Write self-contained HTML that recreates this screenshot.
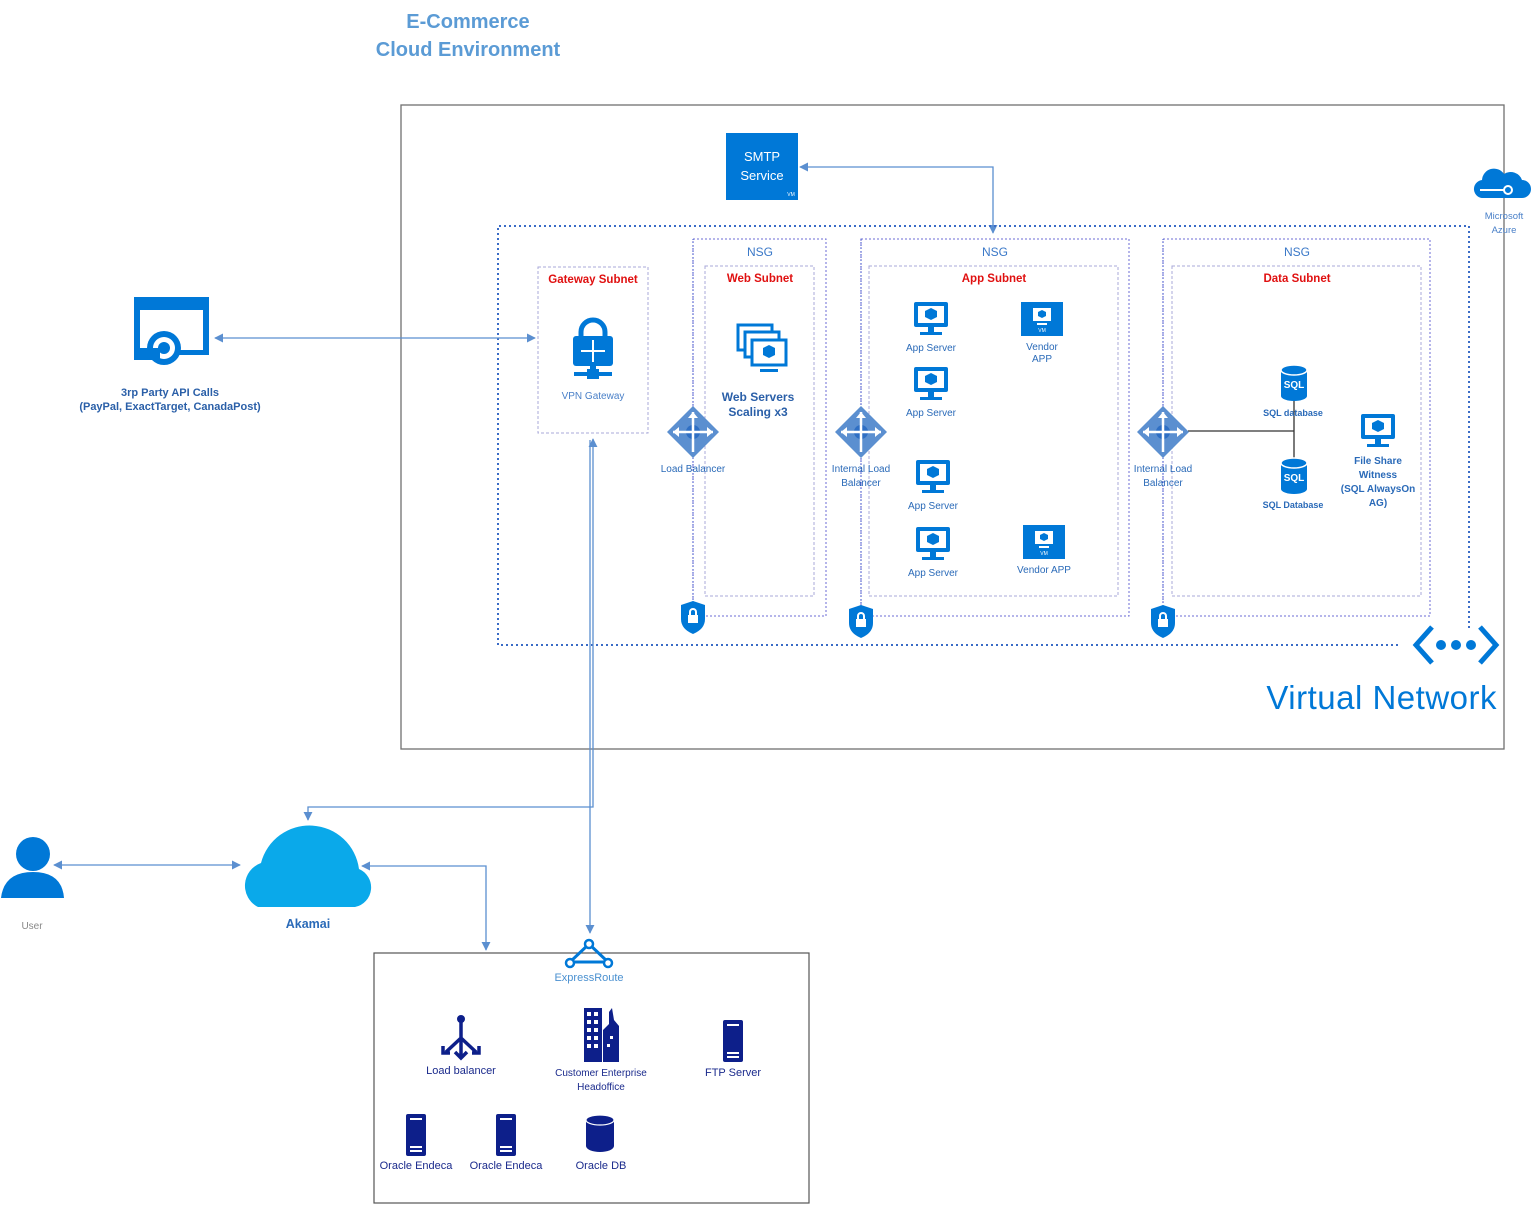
<!DOCTYPE html>
<html><head><meta charset="utf-8"><style>
html,body{margin:0;padding:0;background:#fff;}
svg{display:block;font-family:"Liberation Sans",sans-serif;}
</style></head><body>
<svg width="1536" height="1211" viewBox="0 0 1536 1211" xmlns="http://www.w3.org/2000/svg">
<defs>
<marker id="ar" viewBox="0 0 10 10" refX="9" refY="5" markerWidth="7" markerHeight="7" orient="auto-start-reverse"><path d="M0,0 L10,5 L0,10 z" fill="#5b8fd0"/></marker>
<g id="mon"><rect x="-17" y="-16" width="34" height="25" rx="2" fill="#0078d7"/><rect x="-13" y="-12" width="26" height="17" fill="#fff"/><path d="M0,-10 l6,3 v6 l-6,3 l-6,-3 v-6z" fill="#0078d7"/><rect x="-3" y="9" width="6" height="5" fill="#0078d7"/><rect x="-11" y="14" width="22" height="3" fill="#0078d7"/></g>
<g id="vm"><rect x="-21" y="-17" width="42" height="34" fill="#0078d7"/><rect x="-9" y="-11" width="18" height="13" fill="#fff"/><path d="M0,-9 l4,2 v4 l-4,2 l-4,-2 v-4z" fill="#0078d7"/><rect x="-5" y="4" width="10" height="2" fill="#fff"/><text x="0" y="13" font-size="5" fill="#fff" text-anchor="middle">VM</text></g>
<g id="lb"><path d="M0,-26 L26,0 L0,26 L-26,0z" fill="#5b8fd0"/><circle r="7" fill="#2f6fc4"/><path d="M0,-20 v40 M-20,0 h40" stroke="#fff" stroke-width="2.5"/><path d="M-20,0 l6,-5 v10z M20,0 l-6,-5 v10z M0,-20 l-5,6 h10z" fill="#fff"/></g>
<g id="sh"><path d="M-12,-12 L0,-16 L12,-12 V2 Q12,12 0,17 Q-12,12 -12,2z" fill="#0078d7"/><rect x="-5" y="-2" width="10" height="8" fill="#fff"/><path d="M-3,-2 v-3 a3,3 0 0 1 6,0 v3" stroke="#fff" stroke-width="2" fill="none"/></g>
<g id="sql"><path d="M-13,-14 v26 a13,5 0 0 0 26,0 v-26z" fill="#0078d7"/><ellipse cx="0" cy="-14" rx="13" ry="5" fill="#0078d7" stroke="#fff" stroke-width="1.5"/><text x="0" y="4" font-size="10" font-weight="bold" fill="#fff" text-anchor="middle">SQL</text></g>
<g id="srv"><rect x="-10" y="-21" width="20" height="42" rx="2" fill="#0d1f8a"/><rect x="-6" y="-17" width="12" height="2" fill="#fff"/><rect x="-6" y="11" width="12" height="2" fill="#fff"/><rect x="-6" y="15" width="12" height="2" fill="#fff"/></g>
</defs>

<text x="468" y="28" font-size="20" fill="#5b9bd5" text-anchor="middle" font-weight="bold">E-Commerce</text>
<text x="468" y="56" font-size="20" fill="#5b9bd5" text-anchor="middle" font-weight="bold">Cloud Environment</text>

<rect x="401" y="105" width="1103" height="644" fill="none" stroke="#707070" stroke-width="1.3"/>

<rect x="726" y="133" width="72" height="67" fill="#0078d7"/>
<text x="762" y="161" font-size="13" fill="#fff" text-anchor="middle">SMTP</text>
<text x="762" y="180" font-size="13" fill="#fff" text-anchor="middle">Service</text>
<text x="791" y="196" font-size="5" fill="#fff" text-anchor="middle">VM</text>
<path d="M993,233 V167 H800" fill="none" stroke="#5b8fd0" stroke-width="1.3" marker-start="url(#ar)" marker-end="url(#ar)"/>

<path d="M1398,645 H498 V226 H1469 V628" fill="none" stroke="#3a6bc6" stroke-width="2" stroke-dasharray="2,3"/>

<g fill="none" stroke="#6b6bd6" stroke-width="1" stroke-dasharray="2,2">
<rect x="693" y="239" width="133" height="377"/>
<rect x="861" y="239" width="268" height="377"/>
<rect x="1163" y="239" width="267" height="377"/>
</g>
<g fill="none" stroke="#a8a8d8" stroke-width="1" stroke-dasharray="3,2">
<rect x="538" y="267" width="110" height="166"/>
<rect x="705" y="266" width="109" height="330"/>
<rect x="869" y="266" width="249" height="330"/>
<rect x="1172" y="266" width="249" height="330"/>
</g>
<g font-size="12" fill="#3a78c8" text-anchor="middle">
<text x="760" y="256">NSG</text><text x="995" y="256">NSG</text><text x="1297" y="256">NSG</text>
</g>
<g font-size="11.5" fill="#e01010" text-anchor="middle" font-weight="bold">
<text x="593" y="283">Gateway Subnet</text><text x="760" y="282">Web Subnet</text><text x="994" y="282">App Subnet</text><text x="1297" y="282">Data Subnet</text>
</g>

<rect x="134" y="297" width="75" height="58" fill="#0078d7"/>
<rect x="140" y="310" width="63" height="40" fill="#fff"/>
<circle cx="164" cy="348" r="17" fill="#0078d7"/><circle cx="164" cy="348" r="11" fill="#fff"/><circle cx="164" cy="348" r="6" fill="#0078d7"/>
<rect x="134" y="348" width="26" height="12" fill="#0078d7"/>
<g font-size="11" font-weight="bold" fill="#2a5fa8" text-anchor="middle">
<text x="170" y="396">3rp Party API Calls</text><text x="170" y="410">(PayPal, ExactTarget, CanadaPost)</text></g>
<path d="M215,338 H535" stroke="#5b8fd0" stroke-width="1.3" marker-start="url(#ar)" marker-end="url(#ar)"/>

<path d="M581,338 v-6 a12,12 0 0 1 24,0 v6" stroke="#0078d7" stroke-width="5" fill="none"/>
<rect x="573" y="336" width="40" height="30" rx="3" fill="#0078d7"/>
<path d="M593,340 v22 M581,351 h24" stroke="#fff" stroke-width="2"/>
<rect x="590" y="366" width="6" height="8" fill="#0078d7"/><rect x="574" y="372" width="38" height="4" fill="#0078d7"/><rect x="587" y="369" width="12" height="10" fill="#0078d7"/>
<text x="593" y="399" font-size="10" fill="#4a80c8" text-anchor="middle">VPN Gateway</text>

<g><rect x="738" y="325" width="34" height="25" fill="#fff" stroke="#0078d7" stroke-width="3"/><rect x="745" y="332" width="34" height="25" fill="#fff" stroke="#0078d7" stroke-width="3"/><rect x="752" y="340" width="34" height="25" fill="#fff" stroke="#0078d7" stroke-width="3"/><path d="M769,345 l6,3 v7 l-6,3 l-6,-3 v-7z" fill="#0078d7"/><rect x="760" y="369" width="18" height="3" fill="#0078d7"/></g>
<g font-size="12" font-weight="bold" fill="#2a5fa8" text-anchor="middle"><text x="758" y="401">Web Servers</text><text x="758" y="416">Scaling x3</text></g>

<use href="#mon" x="931" y="318"/><use href="#mon" x="931" y="383"/><use href="#mon" x="933" y="476"/><use href="#mon" x="933" y="543"/>
<g font-size="10" fill="#2a6ab8" text-anchor="middle">
<text x="931" y="351">App Server</text><text x="931" y="416">App Server</text><text x="933" y="509">App Server</text><text x="933" y="576">App Server</text>
<text x="1042" y="350">Vendor</text><text x="1042" y="362">APP</text><text x="1044" y="573">Vendor APP</text></g>
<use href="#vm" x="1042" y="319"/><use href="#vm" x="1044" y="542"/>

<g stroke="#3a50c8" stroke-width="1" stroke-dasharray="1,2"><path d="M693,239 V610 M861,239 V612 M1163,239 V612"/></g>
<path d="M1188,431 H1294 M1294,400 V462" stroke="#333" stroke-width="1.3"/>
<use href="#lb" x="693" y="432"/><use href="#lb" x="861" y="432"/><use href="#lb" x="1163" y="432"/>
<g font-size="10" fill="#2a6ab8" text-anchor="middle">
<text x="693" y="472">Load Balancer</text>
<text x="861" y="472">Internal Load</text><text x="861" y="486">Balancer</text>
<text x="1163" y="472">Internal Load</text><text x="1163" y="486">Balancer</text></g>
<use href="#sh" x="693" y="617"/><use href="#sh" x="861" y="621"/><use href="#sh" x="1163" y="621"/>

<use href="#sql" x="1294" y="384"/><use href="#sql" x="1294" y="477"/>
<g font-size="9" fill="#2a6ab8" text-anchor="middle" font-weight="bold">
<text x="1293" y="416">SQL database</text><text x="1293" y="508">SQL Database</text></g>
<use href="#mon" x="1378" y="430"/>
<g font-size="10" fill="#2a6ab8" text-anchor="middle" font-weight="bold">
<text x="1378" y="464">File Share</text><text x="1378" y="478">Witness</text><text x="1378" y="492">(SQL AlwaysOn</text><text x="1378" y="506">AG)</text></g>

<path d="M1484,198 h38 a9,9 0 0 0 0,-18 a12,12 0 0 0 -18,-6 a12,12 0 0 0 -22,6 a9,9 0 0 0 2,18z" fill="#0078d7"/>
<circle cx="1508" cy="190" r="4" fill="none" stroke="#fff" stroke-width="2"/><path d="M1480,190 h24" stroke="#fff" stroke-width="2"/>
<g font-size="9.5" fill="#4a80c8" text-anchor="middle"><text x="1504" y="219">Microsoft</text><text x="1504" y="233">Azure</text></g>

<path d="M1432,627 L1416,645 L1432,663 M1480,627 L1496,645 L1480,663" stroke="#0078d7" stroke-width="5" fill="none"/>
<circle cx="1441" cy="645" r="5" fill="#0078d7"/><circle cx="1456" cy="645" r="5" fill="#0078d7"/><circle cx="1471" cy="645" r="5" fill="#0078d7"/>
<text x="1497" y="709" font-size="33" letter-spacing="0.5" fill="#0078d7" text-anchor="end">Virtual Network</text>

<path d="M593,439 V807 H308 V820" fill="none" stroke="#5b8fd0" stroke-width="1.3" marker-start="url(#ar)" marker-end="url(#ar)"/>
<path d="M590,440 V933" fill="none" stroke="#5b8fd0" stroke-width="1.3" marker-end="url(#ar)"/>

<circle cx="33" cy="854" r="17" fill="#0078d7"/>
<path d="M1,898 Q4,872 33,872 Q62,872 64,898z" fill="#0078d7"/>
<text x="32" y="929" font-size="10" fill="#888" text-anchor="middle">User</text>
<path d="M54,865 H240" stroke="#5b8fd0" stroke-width="1.3" marker-start="url(#ar)" marker-end="url(#ar)"/>

<path d="M258,907 H355 a20,20 0 0 0 4,-38 a50,50 0 0 0 -98,-6 a24,24 0 0 0 -3,44z" fill="#0aa9ea"/>
<text x="308" y="928" font-size="12.5" font-weight="bold" fill="#2a6ab8" text-anchor="middle">Akamai</text>
<path d="M362,866 H486 V950" fill="none" stroke="#5b8fd0" stroke-width="1.3" marker-start="url(#ar)" marker-end="url(#ar)"/>

<rect x="374" y="953" width="435" height="250" fill="none" stroke="#555" stroke-width="1.2"/>
<path d="M589,944 L570,962 H608z" fill="none" stroke="#0078d7" stroke-width="3"/>
<circle cx="589" cy="944" r="4" fill="#fff" stroke="#0078d7" stroke-width="2.5"/><circle cx="570" cy="963" r="4" fill="#fff" stroke="#0078d7" stroke-width="2.5"/><circle cx="608" cy="963" r="4" fill="#fff" stroke="#0078d7" stroke-width="2.5"/>
<text x="589" y="981" font-size="11" fill="#4a90d0" text-anchor="middle">ExpressRoute</text>

<g stroke="#0d1f8a" stroke-width="3.5" fill="none"><path d="M461,1020 V1058 M461,1038 L446,1052 M461,1038 L476,1052 M455,1052 L461,1058 L467,1052 M443,1046 v7 h7 M479,1046 v7 h-7"/></g>
<circle cx="461" cy="1019" r="4" fill="#0d1f8a"/>
<text x="461" y="1074" font-size="11" fill="#1a2a8c" text-anchor="middle">Load balancer</text>

<rect x="584" y="1008" width="18" height="54" fill="#0d1f8a"/>
<path d="M603,1062 V1030 L609,1024 V1012 L612,1008 L614,1020 L619,1026 V1062z" fill="#0d1f8a"/>
<g fill="#fff"><rect x="587" y="1012" width="4" height="4"/><rect x="594" y="1012" width="4" height="4"/><rect x="587" y="1020" width="4" height="4"/><rect x="594" y="1020" width="4" height="4"/><rect x="587" y="1028" width="4" height="4"/><rect x="594" y="1028" width="4" height="4"/><rect x="587" y="1036" width="4" height="4"/><rect x="594" y="1036" width="4" height="4"/><rect x="587" y="1044" width="4" height="4"/><rect x="594" y="1044" width="4" height="4"/><rect x="610" y="1036" width="3" height="3"/><rect x="607" y="1044" width="3" height="3"/></g>
<g font-size="10" fill="#1a2a8c" text-anchor="middle"><text x="601" y="1076">Customer Enterprise</text><text x="601" y="1090">Headoffice</text></g>

<use href="#srv" x="733" y="1041"/><text x="733" y="1076" font-size="11" fill="#1a2a8c" text-anchor="middle">FTP Server</text>
<use href="#srv" x="416" y="1135"/><text x="416" y="1169" font-size="11" fill="#1a2a8c" text-anchor="middle">Oracle Endeca</text>
<use href="#srv" x="506" y="1135"/><text x="506" y="1169" font-size="11" fill="#1a2a8c" text-anchor="middle">Oracle Endeca</text>
<path d="M586,1120 v26 a14,6 0 0 0 28,0 v-26z" fill="#0d1f8a"/><ellipse cx="600" cy="1120" rx="14" ry="5" fill="#0d1f8a" stroke="#fff" stroke-width="1.2"/>
<text x="601" y="1169" font-size="11" fill="#1a2a8c" text-anchor="middle">Oracle DB</text>
</svg>
</body></html>
